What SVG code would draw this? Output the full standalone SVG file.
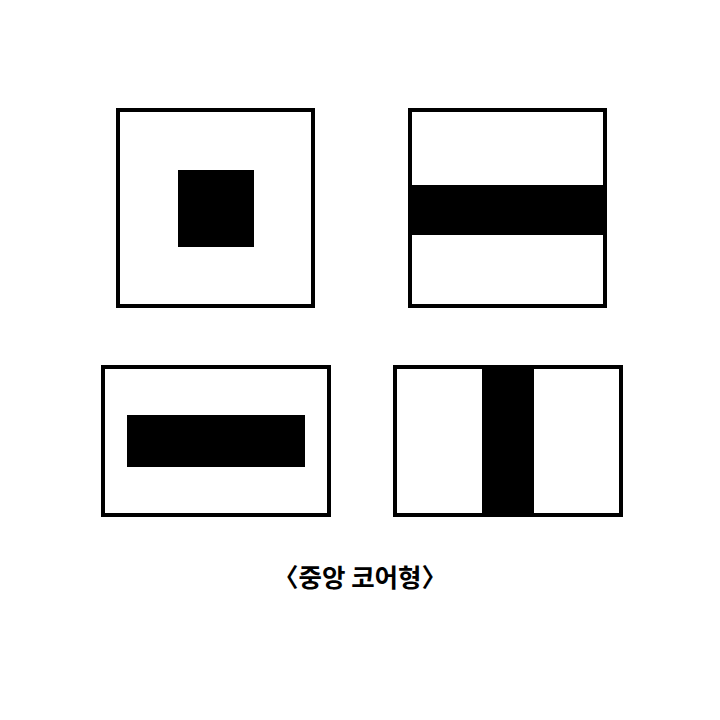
<svg xmlns="http://www.w3.org/2000/svg" width="720" height="720" viewBox="0 0 720 720">
<style>
.frame{fill:#fff;stroke:#000;stroke-width:4}
.core{fill:#000}
.cap{font-family:"Noto Sans CJK KR","Noto Sans CJK SC",sans-serif;font-weight:bold;font-size:25.5px;fill:#000}
</style>
<rect width="720" height="720" fill="#fff"/>
<g id="plan1">
<rect class="frame" x="118" y="110" width="195" height="196"/>
<rect class="core" x="178" y="170" width="76" height="77"/>
</g>
<g id="plan2">
<rect class="frame" x="410" y="110" width="195" height="196"/>
<rect class="core" x="410" y="185" width="195" height="50"/>
</g>
<g id="plan3">
<rect class="frame" x="103" y="367" width="226" height="148"/>
<rect class="core" x="127" y="415" width="178" height="52"/>
</g>
<g id="plan4">
<rect class="frame" x="395" y="367" width="226" height="148"/>
<rect class="core" x="482" y="367" width="52" height="148"/>
</g>
<text class="cap" x="360" y="587" text-anchor="middle">〈중앙 코어형〉</text>
</svg>
